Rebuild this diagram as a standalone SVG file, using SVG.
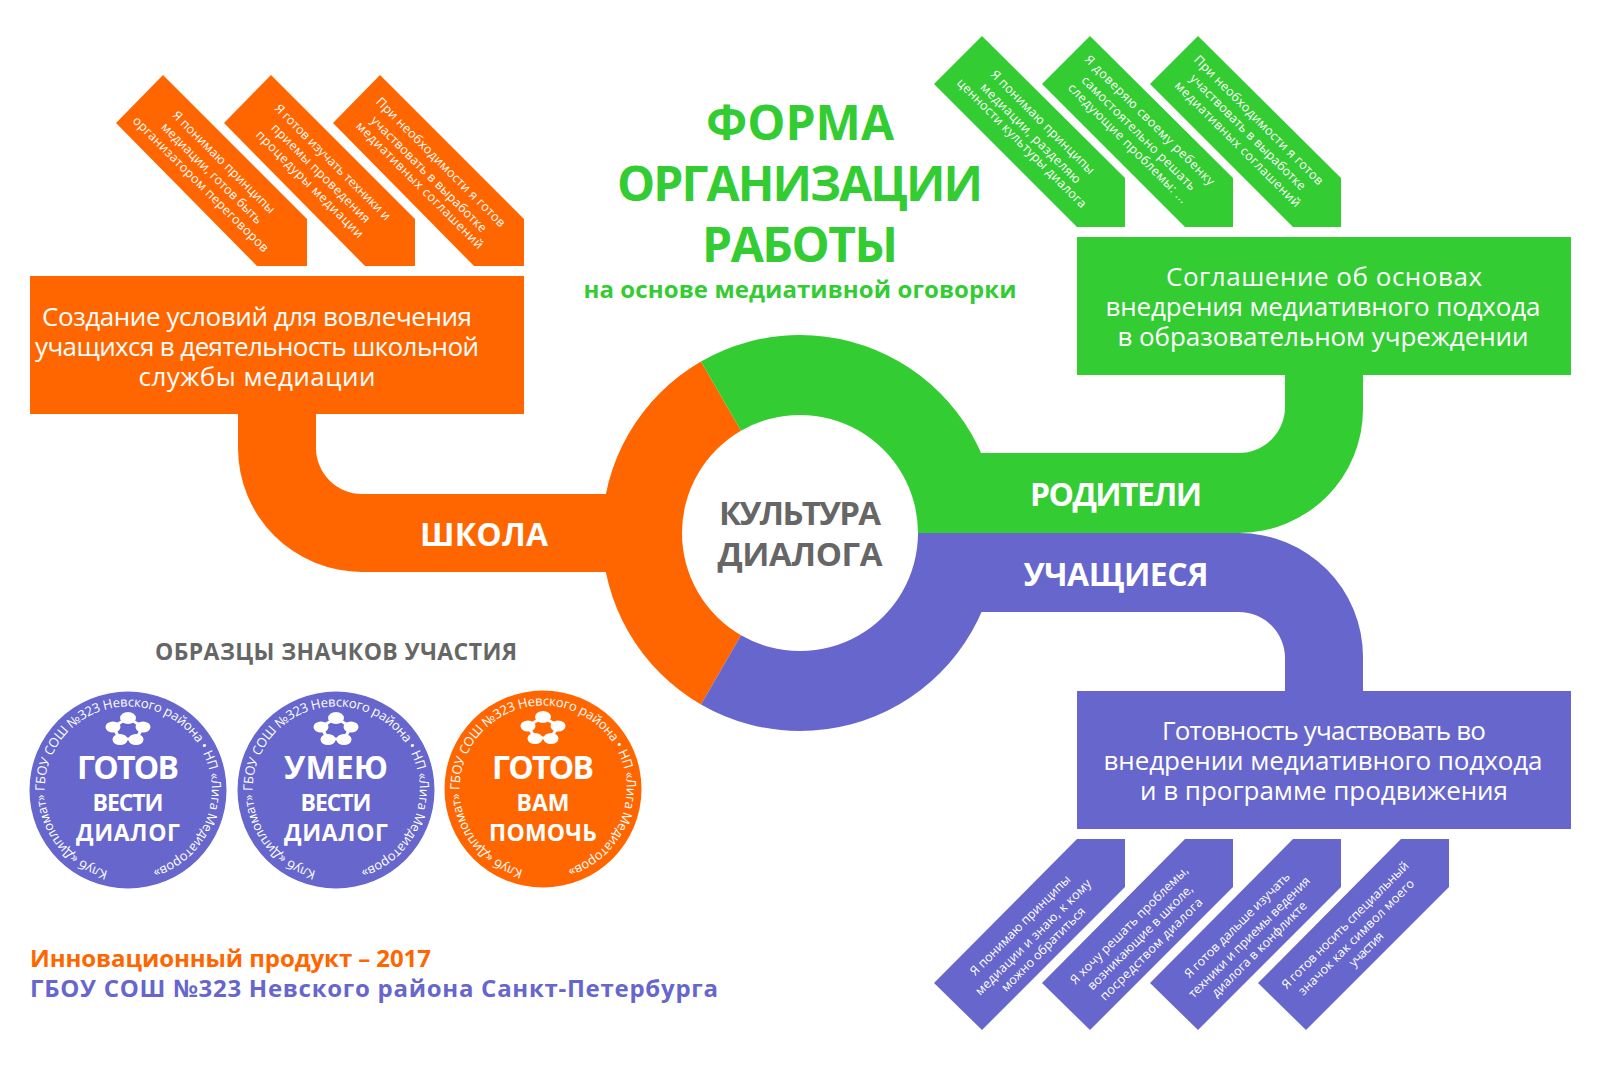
<svg xmlns="http://www.w3.org/2000/svg" width="1600" height="1066" viewBox="0 0 1600 1066">
<style>
text{font-family:"Open Sans","Noto Sans","DejaVu Sans",sans-serif}
.w{fill:#fff}
.m{text-anchor:middle}
.or{fill:#ff6600}.gr{fill:#33cc33}.pu{fill:#6666cc}
.tag{fill:#fff;font-size:12.5px;text-anchor:middle;dominant-baseline:central}
.box{fill:#fff;font-size:26px;text-anchor:middle}
.ttl{fill:#33cc33;font-size:48px;font-weight:700;text-anchor:middle}
.lbl{fill:#fff;font-size:32px;font-weight:700;text-anchor:middle}
.ctr{fill:#666;font-size:33px;font-weight:700;text-anchor:middle}
.foot{font-size:24px;font-weight:700}
.b1{fill:#fff;font-size:32px;font-weight:700;text-anchor:middle}
.b2{fill:#fff;font-size:23px;font-weight:700;text-anchor:middle}
.arc{fill:#fff;font-size:13px}
</style>
<defs>
<path id="circ" d="M-20,81 A83.5,83.5 0 1 1 24,80"/>
<g id="logo" fill="#fff">
<polygon points="0,-12 15,-3 8,9 -8,9 -15,-3" fill="none" stroke="#fff" stroke-width="3"/>
<ellipse cx="0" cy="-12" rx="8" ry="6"/><ellipse cx="15" cy="-3" rx="7.5" ry="5.5"/><ellipse cx="8" cy="9.5" rx="7.5" ry="5.5"/><ellipse cx="-8" cy="9.5" rx="7.5" ry="5.5"/><ellipse cx="-15" cy="-3" rx="7.5" ry="5.5"/>
</g>
</defs>

<g id="connectors">
<path class="or" d="M238,414 V448 A124,124 0 0 0 362,572 H640 V494 H362 A46,46 0 0 1 316,448 V414 Z"/>
<path class="gr" d="M1285,374 V407 A46,46 0 0 1 1239,453 H960 V533 H1239 A124,124 0 0 0 1363,409 V374 Z"/>
<path class="pu" d="M1285,691 V658 A46,46 0 0 0 1239,612 H960 V533 H1239 A124,124 0 0 1 1363,657 V691 Z"/>
</g>

<g id="ring">
<path class="or" d="M701,361.5 A198,198 0 0 0 701,704.5 L741,635.2 A118,118 0 0 1 741,430.8 Z"/>
<path class="gr" d="M701,361.5 A198,198 0 0 1 998,533 H918 A118,118 0 0 0 741,430.8 Z"/>
<path class="pu" d="M701,704.5 A198,198 0 0 0 998,533 H918 A118,118 0 0 1 741,635.2 Z"/>
<text class="ctr" x="800" y="525" textLength="162">КУЛЬТУРА</text>
<text class="ctr" x="800" y="566" textLength="165">ДИАЛОГА</text>
</g>

<g id="title">
<text class="ttl" x="800" y="140" textLength="188">ФОРМА</text>
<text class="ttl" x="800" y="201" textLength="366">ОРГАНИЗАЦИИ</text>
<text class="ttl" x="800" y="262" textLength="196">РАБОТЫ</text>
<text x="800" y="298" class="m" fill="#33cc33" font-size="24" font-weight="700" textLength="433">на основе медиативной оговорки</text>
</g>

<g id="school">
<rect class="or" x="30" y="276" width="494" height="138"/>
<text class="box" x="257" y="326" textLength="430">Создание условий для вовлечения</text>
<text class="box" x="257" y="356" textLength="444">учащихся в деятельность школьной</text>
<text class="box" x="257" y="386" textLength="237">службы медиации</text>
<text class="lbl" x="484" y="546" textLength="128">ШКОЛА</text>
</g>
<g id="school-tags">
<polygon class="or" points="163,75 307,219 307,266 257,266 116,123"/>
<polygon class="or" points="271,75 415,219 415,266 365,266 224,123"/>
<polygon class="or" points="380,75 524,219 524,266 474,266 333,123"/>
<text class="tag" transform="translate(224 162) rotate(45)" textLength="139">Я понимаю принципы</text>
<text class="tag" transform="translate(212 173) rotate(45)" textLength="137">медиации, готов быть</text>
<text class="tag" transform="translate(201 184) rotate(45)" textLength="186">организатором переговоров</text>
<text class="tag" transform="translate(333 162) rotate(45)" textLength="158">Я готов изучать техники и</text>
<text class="tag" transform="translate(321 173) rotate(45)" textLength="134">приемы проведения</text>
<text class="tag" transform="translate(310 184) rotate(45)" textLength="146">процедуры медиации</text>
<text class="tag" transform="translate(441 162) rotate(45)" textLength="177">При необходимости я готов</text>
<text class="tag" transform="translate(429 174) rotate(45)" textLength="158">участвовать в выработке</text>
<text class="tag" transform="translate(420 185) rotate(45)" textLength="174">медиативных соглашений</text>
</g>

<g id="parents">
<rect class="gr" x="1077" y="237" width="494" height="138"/>
<text class="box" x="1324" y="286" textLength="316">Соглашение об основах</text>
<text class="box" x="1323" y="316" textLength="435">внедрения медиативного подхода</text>
<text class="box" x="1323" y="346" textLength="411">в образовательном учреждении</text>
<text class="lbl" x="1116" y="506" textLength="172">РОДИТЕЛИ</text>
</g>
<g id="parents-tags">
<polygon class="gr" points="982,36 1125,178 1125,227 1077,227 934,84"/>
<polygon class="gr" points="1090,36 1233,178 1233,227 1185,227 1042,84"/>
<polygon class="gr" points="1198,36 1341,178 1341,227 1293,227 1150,84"/>
<text class="tag" transform="translate(1043 122) rotate(45)" textLength="141">Я понимаю принципы</text>
<text class="tag" transform="translate(1031 133) rotate(45)" textLength="136">медиации, разделяю</text>
<text class="tag" transform="translate(1022 143) rotate(45)" textLength="177">ценности культуры диалога</text>
<text class="tag" transform="translate(1150 120) rotate(45)" textLength="178">Я доверяю своему ребенку</text>
<text class="tag" transform="translate(1139 133) rotate(45)" textLength="156">самостоятельно решать</text>
<text class="tag" transform="translate(1128 143) rotate(45)" textLength="163">следующие проблемы: ...</text>
<text class="tag" transform="translate(1259 120) rotate(45)" textLength="177">При необходимости я готов</text>
<text class="tag" transform="translate(1248 132) rotate(45)" textLength="158">участвовать в выработке</text>
<text class="tag" transform="translate(1238 144) rotate(45)" textLength="172">медиативных соглашений</text>
</g>

<g id="students">
<rect class="pu" x="1077" y="691" width="494" height="138"/>
<text class="box" x="1324" y="740" textLength="324">Готовность участвовать во</text>
<text class="box" x="1323" y="770" textLength="439">внедрении медиативного подхода</text>
<text class="box" x="1324" y="800" textLength="368">и в программе продвижения</text>
<text class="lbl" x="1116" y="586" textLength="185">УЧАЩИЕСЯ</text>
</g>
<g id="students-tags">
<polygon class="pu" points="1077,839 1125,839 1125,887 982,1030 934,983"/>
<polygon class="pu" points="1185,839 1233,839 1233,887 1090,1030 1042,983"/>
<polygon class="pu" points="1293,839 1341,839 1341,887 1198,1030 1150,983"/>
<polygon class="pu" points="1401,839 1449,839 1449,887 1306,1030 1258,983"/>
<text class="tag" transform="translate(1020 925) rotate(-45)" textLength="136">Я понимаю принципы</text>
<text class="tag" transform="translate(1033 937) rotate(-45)" textLength="158">медиации и знаю, к кому</text>
<text class="tag" transform="translate(1043 949) rotate(-45)" textLength="113">можно обратиться</text>
<text class="tag" transform="translate(1129 925) rotate(-45)" textLength="161">Я хочу решать проблемы,</text>
<text class="tag" transform="translate(1140 937) rotate(-45)" textLength="143">возникающие в школе,</text>
<text class="tag" transform="translate(1151 949) rotate(-45)" textLength="139">посредством диалога</text>
<text class="tag" transform="translate(1237 925) rotate(-45)" textLength="143">Я готов дальше изучать</text>
<text class="tag" transform="translate(1249 937) rotate(-45)" textLength="166">техники и приемы ведения</text>
<text class="tag" transform="translate(1259 949) rotate(-45)" textLength="129">диалога в конфликте</text>
<text class="tag" transform="translate(1345 925) rotate(-45)" textLength="174">Я готов носить специальный</text>
<text class="tag" transform="translate(1356 937) rotate(-45)" textLength="158">значок как символ моего</text>
<text class="tag" transform="translate(1366 949) rotate(-45)" textLength="43">участия</text>
</g>

<text id="badges-title" x="336" y="660" class="m" fill="#666" font-size="23" font-weight="700" textLength="362">ОБРАЗЦЫ ЗНАЧКОВ УЧАСТИЯ</text>

<g id="badge1" transform="translate(128 790)">
<circle class="pu" r="98.5"/>
<text class="arc"><textPath href="#circ" textLength="479">Клуб «Дипломат» ГБОУ СОШ №323 Невского района • НП «Лига Медиаторов»</textPath></text>
<use href="#logo" y="-60"/>
<text class="b1" y="-11" textLength="102">ГОТОВ</text>
<text class="b2" y="21" textLength="71">ВЕСТИ</text>
<text class="b2" y="51" textLength="104">ДИАЛОГ</text>
</g>
<g id="badge2" transform="translate(336 790)">
<circle class="pu" r="98.5"/>
<text class="arc"><textPath href="#circ" textLength="479">Клуб «Дипломат» ГБОУ СОШ №323 Невского района • НП «Лига Медиаторов»</textPath></text>
<use href="#logo" y="-60"/>
<text class="b1" y="-11" textLength="104">УМЕЮ</text>
<text class="b2" y="21" textLength="71">ВЕСТИ</text>
<text class="b2" y="51" textLength="104">ДИАЛОГ</text>
</g>
<g id="badge3" transform="translate(543 789)">
<circle class="or" r="98.5"/>
<text class="arc"><textPath href="#circ" textLength="479">Клуб «Дипломат» ГБОУ СОШ №323 Невского района • НП «Лига Медиаторов»</textPath></text>
<use href="#logo" y="-60"/>
<text class="b1" y="-10" textLength="102">ГОТОВ</text>
<text class="b2" y="22" textLength="53">ВАМ</text>
<text class="b2" y="52" textLength="108">ПОМОЧЬ</text>
</g>

<g id="footer">
<text class="foot or" x="30" y="967" textLength="401">Инновационный продукт – 2017</text>
<text class="foot pu" x="30" y="997" textLength="688">ГБОУ СОШ №323 Невского района Санкт-Петербурга</text>
</g>
</svg>
